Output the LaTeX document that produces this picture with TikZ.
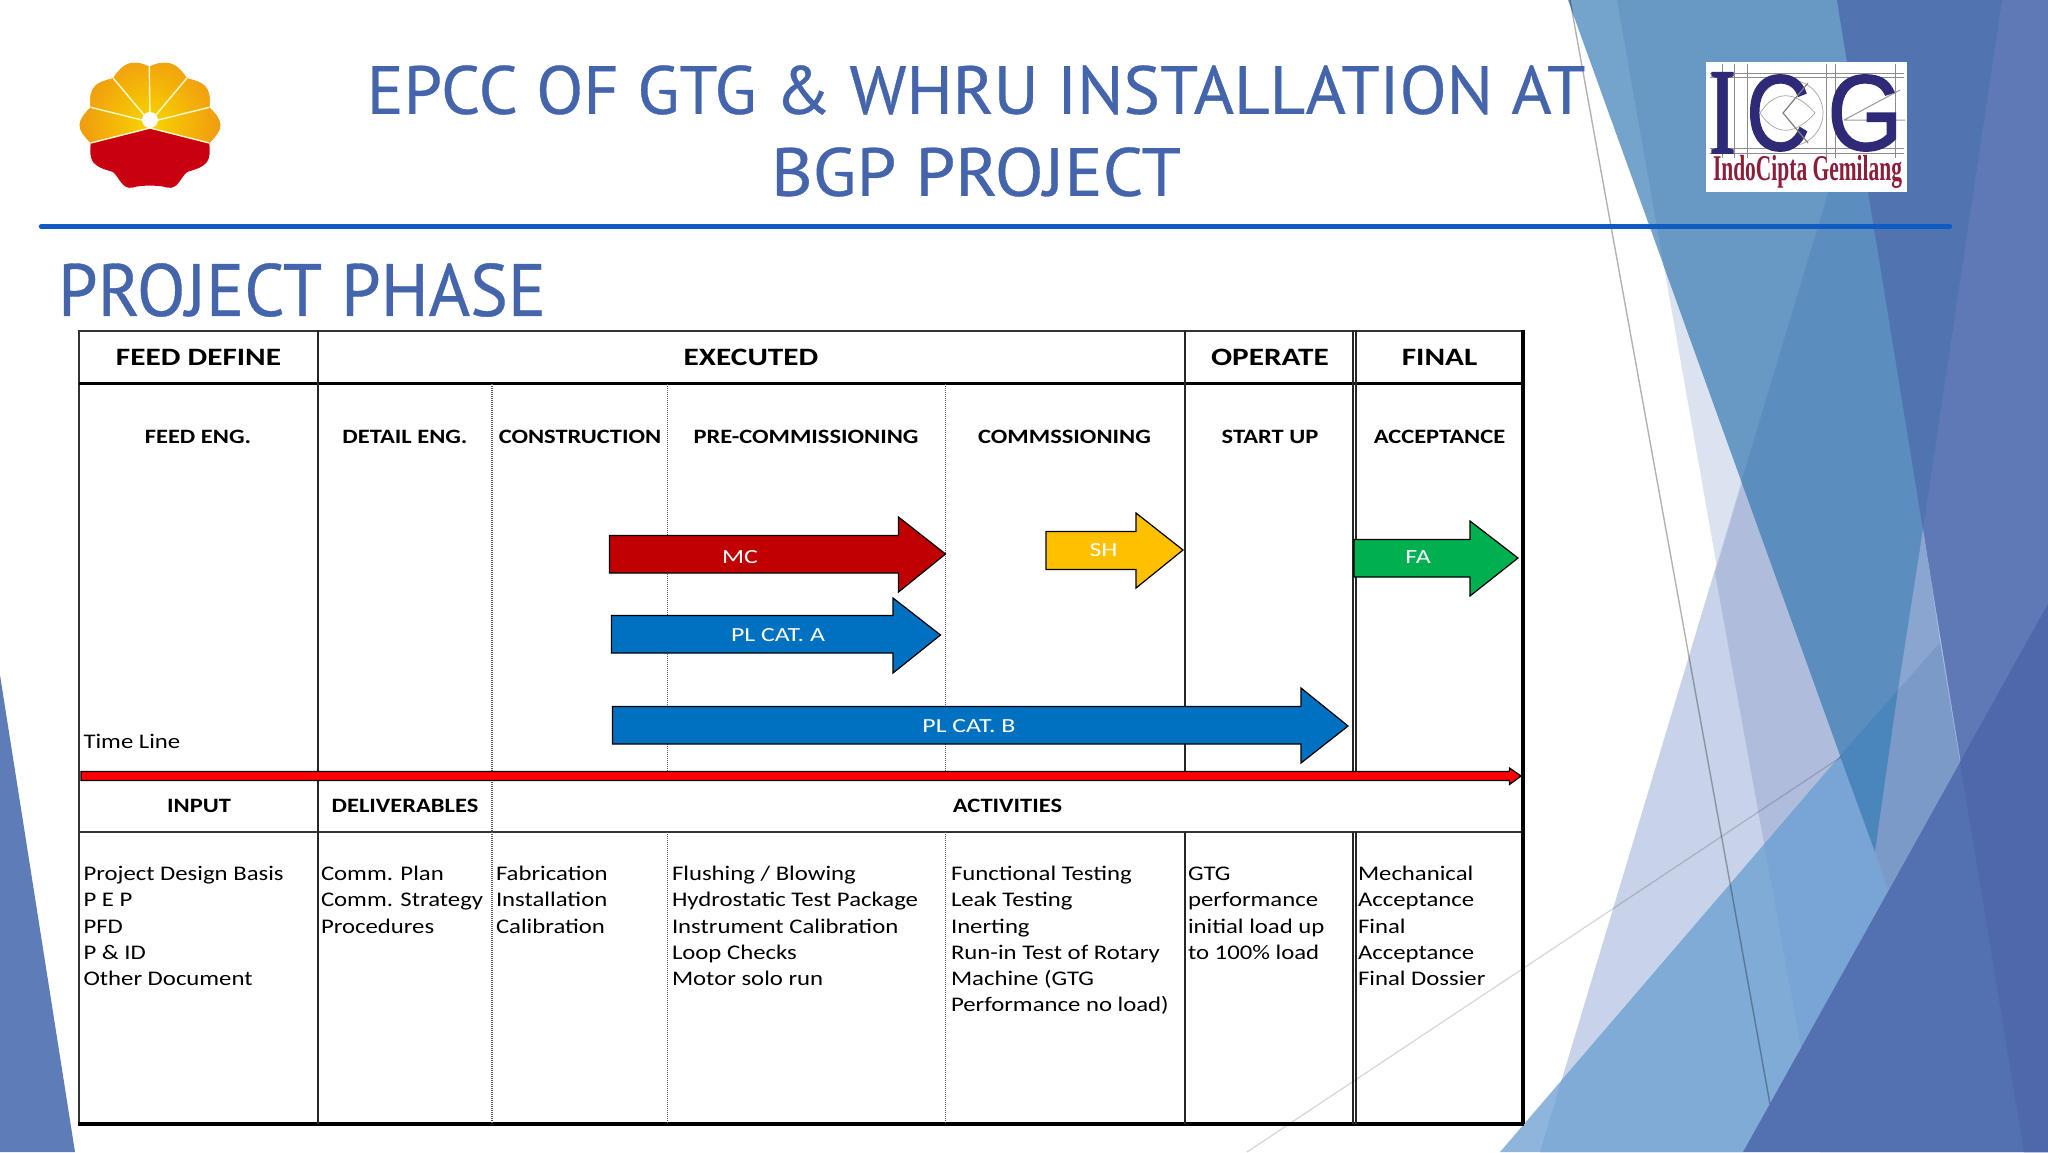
\documentclass[tikz,border=0pt]{standalone}
\usepackage{fontspec}
\usepackage{graphicx}
\newfontfamily\ttlfont[FakeBold=0.5]{PT Sans}
\newfontfamily\calfont{Carlito}
\newfontfamily\logofont{Liberation Serif}
\newfontfamily\logosans[FakeBold=1.2]{Liberation Sans}
\definecolor{ttl}{HTML}{4464AC}
\definecolor{rulec}{HTML}{0F5BC4}
\definecolor{mcred}{HTML}{C00000}
\definecolor{plblue}{HTML}{0070C0}
\definecolor{shamber}{HTML}{FFC000}
\definecolor{fagreen}{HTML}{00B050}
\definecolor{tlred}{HTML}{FF0000}
\definecolor{logoblue}{HTML}{2E2A78}
\definecolor{logored}{HTML}{8B1F3A}
\definecolor{paleD}{HTML}{DBE2F0}
\definecolor{lavC}{HTML}{C8D2E8}
\definecolor{lavCD}{HTML}{B0BCDC}
\definecolor{aLeft}{HTML}{74A3CC}
\definecolor{aMid}{HTML}{6898C4}
\definecolor{aRight}{HTML}{5B8DBF}
\definecolor{iOut}{HTML}{5E79B6}
\definecolor{iIn}{HTML}{4F74B0}
\definecolor{eLeft}{HTML}{8FB5DD}
\definecolor{eMid}{HTML}{80ABD7}
\definecolor{eRight}{HTML}{79A5D5}
\definecolor{eA}{HTML}{4A85BB}
\definecolor{fLow}{HTML}{7B9AC8}
\definecolor{fUp}{HTML}{8AA6D0}
\definecolor{gMain}{HTML}{5370B0}
\definecolor{gRight}{HTML}{4F68AC}
\definecolor{sideL}{HTML}{5E7DB8}
\definecolor{petalIn}{HTML}{F8D400}
\definecolor{petalOut}{HTML}{F09A10}
\definecolor{logoRed}{HTML}{C8000F}
\newcommand{\hd}[1]{\scalebox{1.25}[1]{\calfont\bfseries\fontsize{12.5}{15}\selectfont #1}}
\newcommand{\sh}[1]{\scalebox{1.2}[1]{\calfont\bfseries\fontsize{10.2}{12}\selectfont #1}}
\newcommand{\bd}[1]{\scalebox{1.19}[1]{\calfont\fontsize{10.4}{13.15}\selectfont\begin{tabular}[t]{@{}l@{}}#1\end{tabular}}}
\newcommand{\ar}[1]{\scalebox{1.29}[1]{\calfont\fontsize{10}{12}\selectfont\color{white} #1}}
\tikzset{
  lbl/.style={inner sep=0pt,outer sep=0pt,anchor=center},
  lft/.style={inner sep=0pt,outer sep=0pt,anchor=north west},
  solidcol/.style={draw=black!85,line width=1pt},
  dotcol/.style={draw=black!65,line width=0.8pt,dash pattern=on 0.6pt off 0.4pt},
  thickb/.style={draw=black,line width=2pt},
  arrowshape/.style={draw=black,line width=0.6pt,line join=miter},
}
\begin{document}
\begin{tikzpicture}[x=0.5pt,y=-0.5pt]
\useasboundingbox (0,0) rectangle (2048,1152);
\fill[white] (0,0) rectangle (2048,1152);
% ---- background facets
\fill[sideL] (0,675) -- (75,1152) -- (0,1152) -- cycle;
\fill[paleD] (1617,0) -- (1820,1152) -- (2048,1152) -- (2048,0) -- cycle;
\fill[lavC] (1886,0) -- (1540,1152) -- (2048,1152) -- (2048,0) -- cycle;
\fill[lavCD] (1715,573) -- (1820,1152) -- (2048,1152) -- (2048,0) -- (1886,0) -- cycle;
% triangle A
\fill[aLeft] (1568,0) -- (2002,0) -- (1875,852) -- cycle;
\begin{scope}
\clip (1568,0) -- (2002,0) -- (1875,852) -- cycle;
\fill[aMid] (1617,0) -- (1820,1152) -- (2048,1152) -- (2048,0) -- cycle;
\fill[aRight] (1886,0) -- (1540,1152) -- (2048,1152) -- (2048,0) -- cycle;
\end{scope}
\fill[iOut] (1837,0) -- (2048,0) -- (2048,1152) -- (2024,1152) -- (1960,758) -- cycle;
\fill[iIn] (1837,0) -- (2002,0) -- (1923,529) -- cycle;
% lower light-blue triangle E
\fill[eLeft] (1500,1152) -- (1840,756) -- (1875,852) -- (1888,891) -- (1743,1152) -- cycle;
\begin{scope}
\clip (1500,1152) -- (1840,756) -- (1875,852) -- (1888,891) -- (1743,1152) -- cycle;
\fill[eMid] (1886,0) -- (1540,1152) -- (2048,1152) -- (2048,0) -- cycle;
\fill[eRight] (1715,573) -- (1820,1152) -- (2048,1152) -- (2048,0) -- cycle;
\end{scope}
\fill[eA] (1840,756) -- (1898,690) -- (1875,852) -- cycle;
\fill[fUp] (1923,529) -- (1940,642) -- (1898,690) -- cycle;
\fill[fLow] (1898,690) -- (1940,642) -- (1960,762) -- (1888,891) -- (1875,852) -- cycle;
% thin lines
\draw[black,opacity=.3,line width=0.7pt] (1570,0) -- (1770,1104);
\draw[black,opacity=.16,line width=0.6pt] (1247,1152) -- (1841,757);
% dark triangle G
\fill[gMain] (1743,1152) -- (2048,604) -- (2048,1152) -- cycle;
\fill[gRight] (1960,762) -- (2024,1152) -- (2048,1152) -- (2048,604) -- cycle;
% ---- left logo
\begin{scope}
\clip (90.7,143) .. controls (76,128) and (76,122) .. (90.7,107.3)
 .. controls (88,85) and (98,82) .. (113.3,78.3)
 .. controls (122,64) and (132,58) .. (149.3,66.7)
 .. controls (168,58) and (178,64) .. (186.7,78.3)
 .. controls (202,82) and (212,85) .. (209.3,107.3)
 .. controls (224,122) and (224,128) .. (209.3,143) -- (150,128) -- cycle;
\fill[petalOut] (70,50) rectangle (230,150);
\shade[inner color=petalIn,outer color=petalOut] (150,122) circle (72);
\end{scope}
\fill[logoRed] (150,128) -- (90.7,143) .. controls (89,162) and (92,166) .. (113,172)
 .. controls (120,178) and (122,190) .. (133,187.5)
 .. controls (140,185) and (160,185) .. (167,187.5)
 .. controls (178,190) and (180,178) .. (187,172)
 .. controls (208,166) and (211,162) .. (209.3,143) -- cycle;
\draw[yellow!20,line width=0.7pt] (150,122) -- (149.3,66.7) (150,122) -- (113.3,78.3) (150,122) -- (186.7,78.3) (150,122) -- (90.7,107.3) (150,122) -- (209.3,107.3) (150,128) -- (90.7,143) (150,128) -- (209.3,143);
\fill[white] (150,120) circle (8);
% ---- title
\node[lbl,text=ttl] (title1) at (976,90) {\scalebox{1.013}[1]{\ttlfont\fontsize{34}{40}\selectfont EPCC OF GTG \& WHRU INSTALLATION AT}};
\node[lbl,text=ttl] (title2) at (976,172) {\scalebox{1.05}[1]{\ttlfont\fontsize{34}{40}\selectfont BGP PROJECT}};
\coordinate (ruleL) at (41,226.5);
\coordinate (ruleR) at (1950,226.5);
\draw[rulec,line width=2.2pt,line cap=round] (ruleL) -- (ruleR);
\node[lbl,text=ttl,anchor=west] (phase) at (58,290) {\scalebox{0.96}[1]{\ttlfont\fontsize{37}{44}\selectfont PROJECT PHASE}};
% ---- right logo
\fill[white] (1706,62) rectangle (1906.5,192);
\draw[black!45,line width=0.35pt] (1710,73) -- (1904,73) (1710,77) -- (1904,77) (1710,148) -- (1904,148) (1710,153) -- (1904,153)
 (1722,64) -- (1722,158) (1734,64) -- (1734,158) (1747,64) -- (1747,158) (1826,64) -- (1826,158) (1835,64) -- (1835,158) (1895,64) -- (1895,158);
\draw[black!35,line width=0.35pt] (1790,113) circle (33);
\draw[black!35,line width=0.35pt] (1760,113) .. controls (1775,90) and (1795,90) .. (1815,113) .. controls (1795,136) and (1775,136) .. (1760,113);
\draw[black!40,line width=0.5pt] (1844,120) -- (1900,90) (1844,120) -- (1905,120);
\node[lbl,text=logoblue] (icgI) at (1722.5,113) {\scalebox{0.62}[1.12]{\logofont\bfseries\fontsize{56}{56}\selectfont I}};
\node[lbl,text=logoblue] (icgC) at (1778,113) {\scalebox{0.82}[1]{\logosans\fontsize{54}{54}\selectfont C}};
\node[lbl,text=logoblue] (icgG) at (1865,113) {\scalebox{0.9}[1]{\logosans\fontsize{54}{54}\selectfont G}};
\draw[black!50,line width=0.6pt] (1808,83) -- (1783,113) -- (1808,143);
\node[lbl,text=logored] (icgName) at (1807.5,172) {\scalebox{0.74}[1.25]{\logofont\bfseries\fontsize{14.5}{16}\selectfont IndoCipta Gemilang}};
% ---- table frame
\draw[draw=black!80,line width=1.1pt] (79,330) -- (79,1124);
\draw[draw=black!80,line width=1pt] (78,330.5) -- (1523,330.5);
\draw[draw=black,line width=1.5pt] (79,383.5) -- (1523,383.5);
\draw[draw=black!80,line width=0.7pt] (79,832) -- (1523,832);
\draw[thickb] (78,1123.5) -- (1524,1123.5);
\draw[thickb] (1523,330) -- (1523,1124);
\draw[solidcol] (317.5,330) -- (317.5,1124);
\draw[solidcol] (1184.5,330) -- (1184.5,772) (1184.5,832) -- (1184.5,1124);
\draw[solidcol] (1352.5,330) -- (1352.5,772) (1352.5,832) -- (1352.5,1124);
\draw[solidcol] (1356,330) -- (1356,772) (1356,832) -- (1356,1124);
\draw[dotcol] (492,384) -- (492,1124);
\draw[dotcol] (667.5,384) -- (667.5,772) (667.5,832) -- (667.5,1124);
\draw[dotcol] (945.5,384) -- (945.5,772) (945.5,832) -- (945.5,1124);
% ---- arrows
\filldraw[arrowshape,fill=mcred] (609.5,535.5) -- (898.5,535.5) -- (898.5,517) -- (945.5,554) -- (898.5,592) -- (898.5,573) -- (609.5,573) -- cycle;
\filldraw[arrowshape,fill=plblue] (611.5,615.5) -- (893,615.5) -- (893,598) -- (940.5,635) -- (893,673) -- (893,653) -- (611.5,653) -- cycle;
\filldraw[arrowshape,fill=plblue] (612.5,706.5) -- (1301,706.5) -- (1301,688) -- (1348,726) -- (1301,763) -- (1301,744) -- (612.5,744) -- cycle;
\filldraw[arrowshape,fill=shamber] (1046,531.5) -- (1136,531.5) -- (1136,513) -- (1183,550) -- (1136,588) -- (1136,569.5) -- (1046,569.5) -- cycle;
\filldraw[arrowshape,fill=fagreen] (1354,539.5) -- (1470,539.5) -- (1470,521) -- (1518,558) -- (1470,596) -- (1470,577) -- (1354,577) -- cycle;
\filldraw[arrowshape,fill=tlred] (81,771.5) -- (1509.5,771.5) -- (1509.5,768) -- (1521,776) -- (1509.5,784.5) -- (1509.5,780.5) -- (81,780.5) -- cycle;
\node[lbl] (mc) at (740,557) {\ar{MC}};
\node[lbl] (pla) at (778,635) {\ar{PL CAT. A}};
\node[lbl] (plb) at (969,726) {\ar{PL CAT. B}};
\node[lbl] (shl) at (1103.5,550) {\ar{SH}};
\node[lbl] (fal) at (1418,557) {\ar{FA}};
% ---- headers
\node[lbl] (h1) at (198.5,357.5) {\hd{FEED DEFINE}};
\node[lbl] (h2) at (751,357.5) {\hd{EXECUTED}};
\node[lbl] (h3) at (1270,357.5) {\hd{OPERATE}};
\node[lbl] (h4) at (1439.5,357.5) {\hd{FINAL}};
\node[lbl] (s1) at (198,437) {\sh{FEED ENG.}};
\node[lbl] (s2) at (405,437) {\sh{DETAIL ENG.}};
\node[lbl] (s3) at (580,437) {\sh{CONSTRUCTION}};
\node[lbl] (s4) at (806,437) {\sh{PRE-COMMISSIONING}};
\node[lbl] (s5) at (1064.5,437) {\sh{COMMSSIONING}};
\node[lbl] (s6) at (1270,437) {\sh{START UP}};
\node[lbl] (s7) at (1439.5,437) {\sh{ACCEPTANCE}};
\node[lbl] (r1) at (199,806) {\sh{INPUT}};
\node[lbl] (r2) at (405,806) {\sh{DELIVERABLES}};
\node[lbl] (r3) at (1007.5,806) {\sh{ACTIVITIES}};
\node[lbl,anchor=west] (tl) at (83.5,741) {\scalebox{1.19}[1]{\calfont\fontsize{10.4}{13}\selectfont Time Line}};
% ---- body columns
\node[lft] (b1) at (83.5,862) {\bd{Project Design Basis\\P E P\\PFD\\P \& ID\\Other Document}};
\node[lft] (b2) at (321,862) {\bd{Comm. Plan\\Comm. Strategy\\Procedures}};
\node[lft] (b3) at (496,862) {\bd{Fabrication\\Installation\\Calibration}};
\node[lft] (b4) at (672,862) {\bd{Flushing / Blowing\\Hydrostatic Test Package\\Instrument Calibration\\Loop Checks\\Motor solo run}};
\node[lft] (b5) at (951,862) {\bd{Functional Testing\\Leak Testing\\Inerting\\Run-in Test of Rotary\\Machine (GTG\\Performance no load)}};
\node[lft] (b6) at (1188,862) {\bd{GTG\\performance\\initial load up\\to 100\% load}};
\node[lft] (b7) at (1358,862) {\bd{Mechanical\\Acceptance\\Final\\Acceptance\\Final Dossier}};
\end{tikzpicture}
\end{document}
